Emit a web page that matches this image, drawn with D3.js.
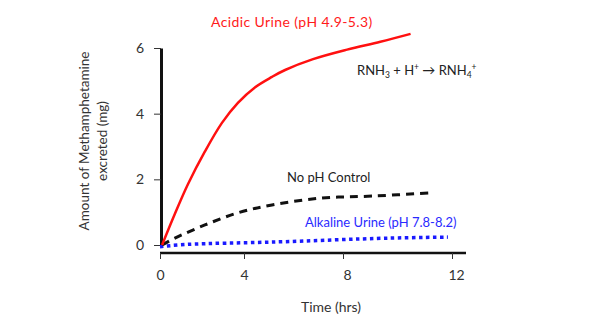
<!DOCTYPE html>
<html>
<head>
<meta charset="utf-8">
<script src="https://cdn.jsdelivr.net/npm/d3@7.9.0/dist/d3.min.js"></script>
<style>
  html, body { margin: 0; padding: 0; background: #fff; }
  svg { display: block; font-family: Lato, "Open Sans", sans-serif; }
</style>
</head>
<body>
<div id="chart"></div>
<script>
// ---------- DATA ----------

const xTicks = [0, 4, 8, 12];
const yTicks = [0, 2, 4, 6];

// ACIDIC URINE (hrs, mg)
const acidicTime = [0.1, 0.71, 1.33, 2.14, 2.95, 3.71, 4.44, 5.13, 5.66, 6.79, 8.15, 9.37, 10.48];
const acidicMg   = [0, 0.95, 1.85, 2.85, 3.72, 4.33, 4.80, 5.12, 5.33, 5.66, 5.95, 6.19, 6.43];

// NO PH CONTROL
const controlTime = [0.1, 0.71, 2.14, 3.71, 5.13, 7.15, 9.07, 11.3];
const controlMg   = [0, 0.21, 0.61, 0.98, 1.22, 1.43, 1.49, 1.59];

// ALKALINE URINE
const alkalineTime = [0, 1.33, 5.17, 9.67, 11.85];
const alkalineMg   = [-0.05, 0.02, 0.09, 0.21, 0.24];

// ---------- SVG ----------

const width = 600;
const height = 315;

const svg = d3.select("#chart")
    .append("svg")
    .attr("width", width)
    .attr("height", height);

// SCALES (x ticks in the source are not evenly spaced)
const x = d3.scaleLinear()
    .domain([0, 4, 8, 12])
    .range([160, 244, 343, 452]);

const y = d3.scaleLinear()
    .domain([0, 6])
    .range([245, 48]);

// ---------- AXES ----------

// Y AXIS
const yAxis = svg.append("g")
    .attr("transform", "translate(161,0)")
    .call(d3.axisLeft(y).tickValues(yTicks).tickFormat(d3.format("d"))
        .tickSize(7).tickPadding(10).tickSizeOuter(0));
yAxis.select(".domain").attr("stroke", "#111").attr("stroke-width", 3);
yAxis.selectAll(".tick line").attr("stroke", "#333").attr("stroke-width", 1);
yAxis.selectAll(".tick text")
    .attr("font-size", 14)
    .attr("fill", "#333")
    .attr("font-family", "Lato, sans-serif");

// X AXIS (sits a little below the zero line)
const xAxis = svg.append("g")
    .attr("transform", "translate(0,253)")
    .call(d3.axisBottom(x).tickValues(xTicks).tickSize(6).tickPadding(11).tickSizeOuter(0));
xAxis.select(".domain")
    .attr("d", `M${x(0)},0H466`)
    .attr("stroke", "#111")
    .attr("stroke-width", 2.5);
xAxis.selectAll(".tick line").attr("stroke", "#333").attr("stroke-width", 1);
xAxis.selectAll(".tick text")
    .attr("font-size", 14)
    .attr("fill", "#333")
    .attr("font-family", "Lato, sans-serif")
    .attr("dx", (d, i) => i > 1 ? 4 : 0);

// AXIS TITLES
svg.append("text")
    .attr("transform", "translate(89,141) rotate(-90)")
    .attr("text-anchor", "middle")
    .attr("font-size", 13.5)
    .attr("fill", "#333")
    .text("Amount of Methamphetamine");

svg.append("text")
    .attr("transform", "translate(107,141) rotate(-90)")
    .attr("text-anchor", "middle")
    .attr("font-size", 13.5)
    .attr("fill", "#333")
    .text("excreted (mg)");

svg.append("text")
    .attr("x", 331)
    .attr("y", 312)
    .attr("text-anchor", "middle")
    .attr("font-size", 14)
    .attr("fill", "#333")
    .text("Time (hrs)");

// ---------- LINES ----------

const line = d3.line()
    .x(d => x(d[0]))
    .y(d => y(d[1]))
    .curve(d3.curveCatmullRom.alpha(0.5));

svg.append("path")
    .datum(d3.zip(alkalineTime, alkalineMg))
    .attr("d", line)
    .attr("fill", "none")
    .attr("stroke", "#1a1aff")
    .attr("stroke-width", 3.5)
    .attr("stroke-dasharray", "3.5,3.5");

svg.append("path")
    .datum(d3.zip(controlTime, controlMg))
    .attr("d", line)
    .attr("fill", "none")
    .attr("stroke", "#111")
    .attr("stroke-width", 3)
    .attr("stroke-dasharray", "8,6");

svg.append("path")
    .datum(d3.zip(acidicTime, acidicMg))
    .attr("d", line)
    .attr("fill", "none")
    .attr("stroke", "#ff1010")
    .attr("stroke-width", 2.5);

// ---------- LABELS ----------

svg.append("text")
    .attr("x", 211)
    .attr("y", 27)
    .attr("font-size", 14)
    .attr("letter-spacing", 0.4)
    .attr("fill", "#ff1a1a")
    .text("Acidic Urine (pH 4.9-5.3)");

svg.append("text")
    .attr("x", 287)
    .attr("y", 182)
    .attr("font-size", 13)
    .attr("fill", "#222")
    .text("No pH Control");

svg.append("text")
    .attr("x", 305)
    .attr("y", 227)
    .attr("font-size", 13)
    .attr("fill", "#2a2aff")
    .text("Alkaline Urine (pH 7.8-8.2)");

// REACTION
const rx = svg.append("text")
    .attr("x", 357)
    .attr("y", 75)
    .attr("font-size", 13)
    .attr("fill", "#222");
rx.append("tspan").text("RNH");
rx.append("tspan").attr("font-size", 8.5).attr("dy", 3).text("3");
rx.append("tspan").attr("dy", -3).text(" + H");
rx.append("tspan").attr("font-size", 8.5).attr("dy", -5).text("+");
rx.append("tspan").attr("dy", 5).text("  \u2192  RNH");
rx.append("tspan").attr("font-size", 8.5).attr("dy", 3).text("4");
rx.append("tspan").attr("font-size", 8.5).attr("dy", -8).text("+");
</script>
</body>
</html>
